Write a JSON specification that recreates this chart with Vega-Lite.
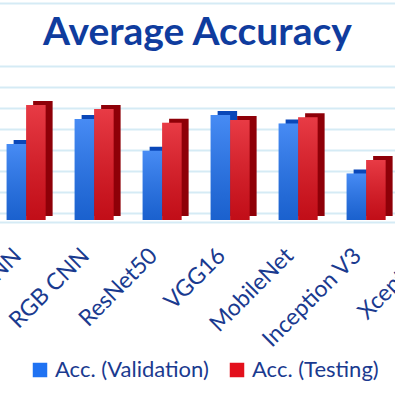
{
  "$schema": "https://vega.github.io/schema/vega-lite/v6.json",
  "width": 476,
  "height": 210,
  "autosize": {"type": "none"},
  "padding": {"left": -8, "top": 3, "right": -73, "bottom": 182},
  "background": "white",
  "config": {"view": {"stroke": null}, "font": "Lato"},
  "title": {
    "text": "Average Accuracy",
    "anchor": "start",
    "frame": "group",
    "dx": 51,
    "offset": -81,
    "baseline": "alphabetic",
    "fontSize": 39,
    "fontWeight": "bold",
    "color": "#0f3c9e",
    "font": "Lato"
  },
  "data": {
    "values": [
      {"model": "CNN", "series": "Acc. (Validation)", "value": 36.2},
      {"model": "CNN", "series": "Acc. (Testing)", "value": 54.8},
      {"model": "RGB CNN", "series": "Acc. (Validation)", "value": 48.1},
      {"model": "RGB CNN", "series": "Acc. (Testing)", "value": 52.9},
      {"model": "ResNet50", "series": "Acc. (Validation)", "value": 33.0},
      {"model": "ResNet50", "series": "Acc. (Testing)", "value": 46.3},
      {"model": "VGG16", "series": "Acc. (Validation)", "value": 50.0},
      {"model": "VGG16", "series": "Acc. (Testing)", "value": 47.6},
      {"model": "MobileNet", "series": "Acc. (Validation)", "value": 46.0},
      {"model": "MobileNet", "series": "Acc. (Testing)", "value": 48.9},
      {"model": "Inception V3", "series": "Acc. (Validation)", "value": 22.2},
      {"model": "Inception V3", "series": "Acc. (Testing)", "value": 28.6},
      {"model": "Xception", "series": "Acc. (Validation)", "value": 40.0},
      {"model": "Xception", "series": "Acc. (Testing)", "value": 45.0}
    ]
  },
  "encoding": {
    "x": {
      "field": "model",
      "type": "nominal",
      "sort": null,
      "scale": {"paddingInner": 0.43, "paddingOuter": 0.215},
      "axis": {
        "title": null,
        "labelAngle": -45,
        "labelFontSize": 23,
        "labelColor": "#1a3a8f",
        "labelPadding": 22,
        "labelOffset": -16,
        "ticks": false,
        "domainColor": "#d5ebf5",
        "domainWidth": 2,
        "offset": 9,
        "grid": false
      }
    },
    "y": {
      "field": "value",
      "type": "quantitative",
      "scale": {"domain": [0, 100]},
      "axis": {
        "title": null,
        "labels": false,
        "ticks": false,
        "domain": false,
        "grid": true,
        "gridColor": "#d5ebf5",
        "gridWidth": 2,
        "values": [0, 10, 20, 30, 40, 50, 60, 70, 100]
      }
    }
  },
  "layer": [
    {
      "mark": {"type": "bar", "yOffset": 3, "y2Offset": 3},
      "encoding": {
        "xOffset": {"field": "series", "sort": null, "scale": {"paddingInner": 0, "range": [7, 46]}},
        "color": {
          "field": "series",
          "type": "nominal",
          "scale": {"domain": ["Acc. (Validation)", "Acc. (Testing)"], "range": ["#0a47b8", "#8e0008"]},
          "legend": null
        }
      }
    },
    {
      "mark": {"type": "bar", "yOffset": 7, "y2Offset": 7},
      "encoding": {
        "xOffset": {"field": "series", "sort": null, "scale": {"paddingInner": 0, "range": [0, 39]}},
        "color": {
          "field": "series",
          "type": "nominal",
          "scale": {"domain": ["Acc. (Validation)", "Acc. (Testing)"], "range": ["#1f72f2", "#e3101c"]},
          "legend": {
            "title": null,
            "orient": "none",
            "legendX": 37,
            "legendY": 356,
            "direction": "horizontal",
            "symbolType": "square",
            "symbolSize": 210,
            "symbolStrokeWidth": 0,
            "labelFontSize": 22,
            "labelColor": "#1a3a8f",
            "columnPadding": 17,
            "labelOffset": 4,
            "padding": 0
          }
        }
      }
    },
    {
      "mark": {
        "type": "bar",
        "yOffset": 7,
        "y2Offset": 7,
        "fill": {
          "gradient": "linear",
          "x1": 0, "y1": 0, "x2": 0, "y2": 1,
          "stops": [
            {"offset": 0, "color": "rgba(255,255,255,0.18)"},
            {"offset": 1, "color": "rgba(0,0,0,0.15)"}
          ]
        }
      },
      "encoding": {
        "xOffset": {"field": "series", "sort": null, "scale": {"paddingInner": 0, "range": [0, 39]}}
      }
    }
  ],
  "resolve": {"scale": {"color": "independent", "xOffset": "independent"}}
}
